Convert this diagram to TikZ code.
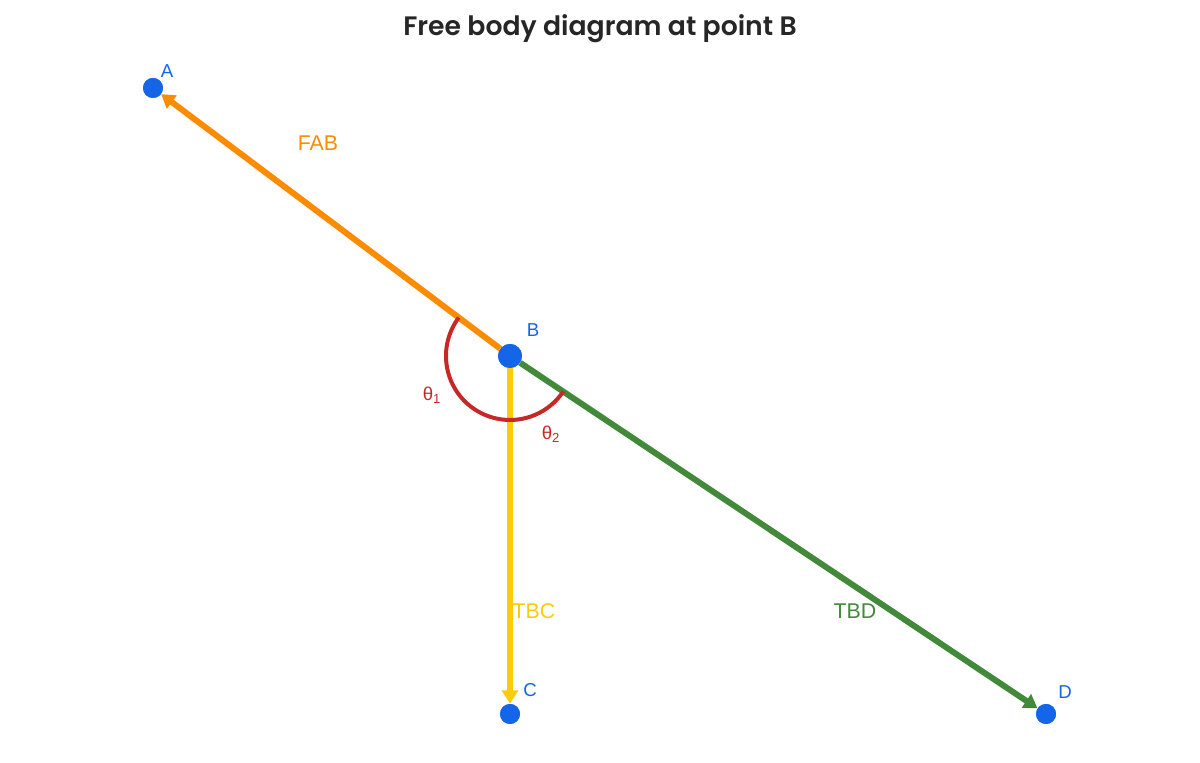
\documentclass[tikz,border=0pt]{standalone}
\usepackage{fontspec}
\setmainfont{Liberation Sans}
\newfontfamily\titlefont{Poppins SemiBold}
\usetikzlibrary{arrows.meta}

\definecolor{dotblue}{HTML}{1565E8}
\definecolor{fab}{HTML}{FB8C00}
\definecolor{tbc}{HTML}{FCCB0D}
\definecolor{tbd}{HTML}{43893A}
\definecolor{angred}{HTML}{C62828}

\tikzset{
  pt/.style={circle, fill=dotblue, inner sep=0pt, minimum size=15pt},
  ptlabel/.style={text=dotblue, font=\fontsize{14}{16}\selectfont},
  force/.style={line width=4.5pt, -{Triangle[length=10pt,width=12pt]}},
  flabel/.style={font=\fontsize{16}{18}\selectfont},
  anglabel/.style={text=angred, font=\fontsize{14}{16}\selectfont}
}

\begin{document}
\begin{tikzpicture}[x=0.75pt,y=0.75pt]

  \useasboundingbox (0,0) rectangle (1200,763);

  \node [font=\titlefont\fontsize{20}{24}\selectfont, text=black!85] (title) at (600, 734) {Free body diagram at point B};

  % points
  \node [pt, minimum size=18pt] (B) at (510, 407) {};
  \node [pt] (A) at (153, 675) {};
  \node [pt] (C) at (510, 49) {};
  \node [pt] (D) at (1046, 49) {};

  % forces
  \draw [force, fab] (B) -- (A);
  \draw [force, tbc] (B) -- (C);
  \draw [force, tbd] (B) -- (D);

  % angle
  \draw [angred, line width=3pt] (B.center) ++(143.1:48pt) arc [start angle=143.1, end angle=326.3, radius=48pt];

  % redraw points on top
  \node [pt, minimum size=18pt] at (B) {};
  \node [pt] at (A) {};
  \node [pt] at (C) {};
  \node [pt] at (D) {};

  \node [ptlabel] (lA) at (167, 692) {A};
  \node [ptlabel] (lB) at (533, 433) {B};
  \node [ptlabel] (lC) at (530, 73) {C};
  \node [ptlabel] (lD) at (1065, 71) {D};

  \node [flabel, text=fab] (lFAB) at (318, 620) {FAB};
  \node [flabel, text=tbc] (lTBC) at (534, 152) {TBC};
  \node [flabel, text=tbd] (lTBD) at (855, 152) {TBD};

  \node [anglabel] (t1) at (432, 368) {θ\textsubscript{1}};
  \node [anglabel] (t2) at (551, 329) {θ\textsubscript{2}};
\end{tikzpicture}
\end{document}
